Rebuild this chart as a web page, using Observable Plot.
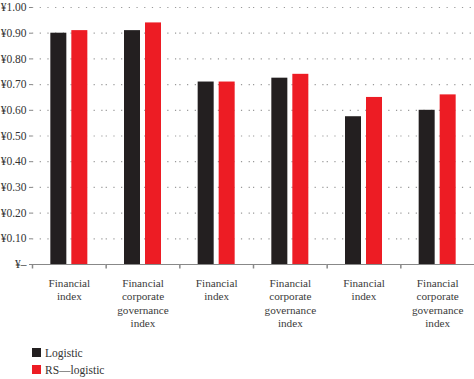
<!DOCTYPE html>
<html>
<head>
<meta charset="utf-8">
<script src="https://cdn.jsdelivr.net/npm/d3@7"></script>
<script src="https://cdn.jsdelivr.net/npm/@observablehq/plot@0.6"></script>
<style>
  body { margin: 0; background: #fff; font-family: "Liberation Serif", serif; }
  #chart svg { display: block; }
  #legend { margin-left: 32px; margin-top: 4px; font-size: 11.5px; color: #333; }
  #legend .item { display: flex; align-items: center; height: 17px; }
  #legend .sw { width: 9px; height: 9px; margin-right: 4px; }
</style>
</head>
<body>
<div id="chart"></div>
<div id="legend"></div>
<script>
const groupKeys = ["g0", "g1", "g2", "g3", "g4", "g5"];
const groupLabels = [
  "Financial\nindex",
  "Financial\ncorporate\ngovernance\nindex",
  "Financial\nindex",
  "Financial\ncorporate\ngovernance\nindex",
  "Financial\nindex",
  "Financial\ncorporate\ngovernance\nindex"
];
const seriesNames = ["Logistic", "RS\u2014logistic"];
const logisticValues = [0.90, 0.91, 0.71, 0.725, 0.575, 0.60];
const rsLogisticValues = [0.91, 0.94, 0.71, 0.74, 0.65, 0.66];
const yTicks = [0, 0.1, 0.2, 0.3, 0.4, 0.5, 0.6, 0.7, 0.8, 0.9, 1.0];
const seriesColors = ["#231f20", "#ed1c24"];

const labelOf = Object.fromEntries(groupKeys.map((k, i) => [k, groupLabels[i]]));
const table = [];
groupKeys.forEach((g, i) => {
  table.push({group: g, series: seriesNames[0], value: logisticValues[i]});
  table.push({group: g, series: seriesNames[1], value: rsLogisticValues[i]});
});

const tickSymbol = {draw(ctx) { ctx.moveTo(0, 0); ctx.lineTo(0, 4); }};

const chart = Plot.plot({
  width: 474,
  height: 340,
  marginLeft: 32,
  marginRight: 0,
  marginTop: 7,
  marginBottom: 76,
  style: {fontFamily: "Liberation Serif, serif", fontSize: "11px", color: "#333", background: "#fff"},
  fx: {domain: groupKeys, padding: 0, round: false, label: null},
  x: {domain: seriesNames, paddingInner: 0.238, paddingOuter: 0.873, round: false, axis: null},
  y: {domain: [0, 1], label: null},
  color: {domain: seriesNames, range: seriesColors},
  marks: [
    Plot.gridY(yTicks, {stroke: "#999", strokeOpacity: 1, strokeWidth: 1.2, strokeDasharray: "1.2,6.5"}),
    Plot.barY(table, {fx: "group", x: "series", y: "value", fill: "series"}),
    Plot.ruleY([0], {stroke: "#888", strokeWidth: 1}),
    Plot.dot([0], {frameAnchor: "bottom-left", symbol: tickSymbol, stroke: "#888", fill: "none", r: 3}),
    Plot.axisY(yTicks, {
      tickFormat: d => d === 0 ? "\u00a5\u2013" : "\u00a5" + d.toFixed(2),
      tickSize: 3, tickPadding: 3, stroke: "#888", line: true, label: null, fontSize: 11.5, fill: "#333"
    }),
    Plot.axisFx({
      anchor: "bottom", tickSize: 0, tickPadding: 13, label: null,
      tickFormat: d => labelOf[d], lineHeight: 1.2, fontSize: 11.2, fill: "#3a3a3a"
    })
  ]
});
document.getElementById("chart").appendChild(chart);

const legend = document.getElementById("legend");
seriesNames.forEach((name, i) => {
  const item = document.createElement("div");
  item.className = "item";
  const sw = document.createElement("span");
  sw.className = "sw";
  sw.style.background = seriesColors[i];
  const t = document.createElement("span");
  t.textContent = name;
  item.appendChild(sw);
  item.appendChild(t);
  legend.appendChild(item);
});
</script>
</body>
</html>
